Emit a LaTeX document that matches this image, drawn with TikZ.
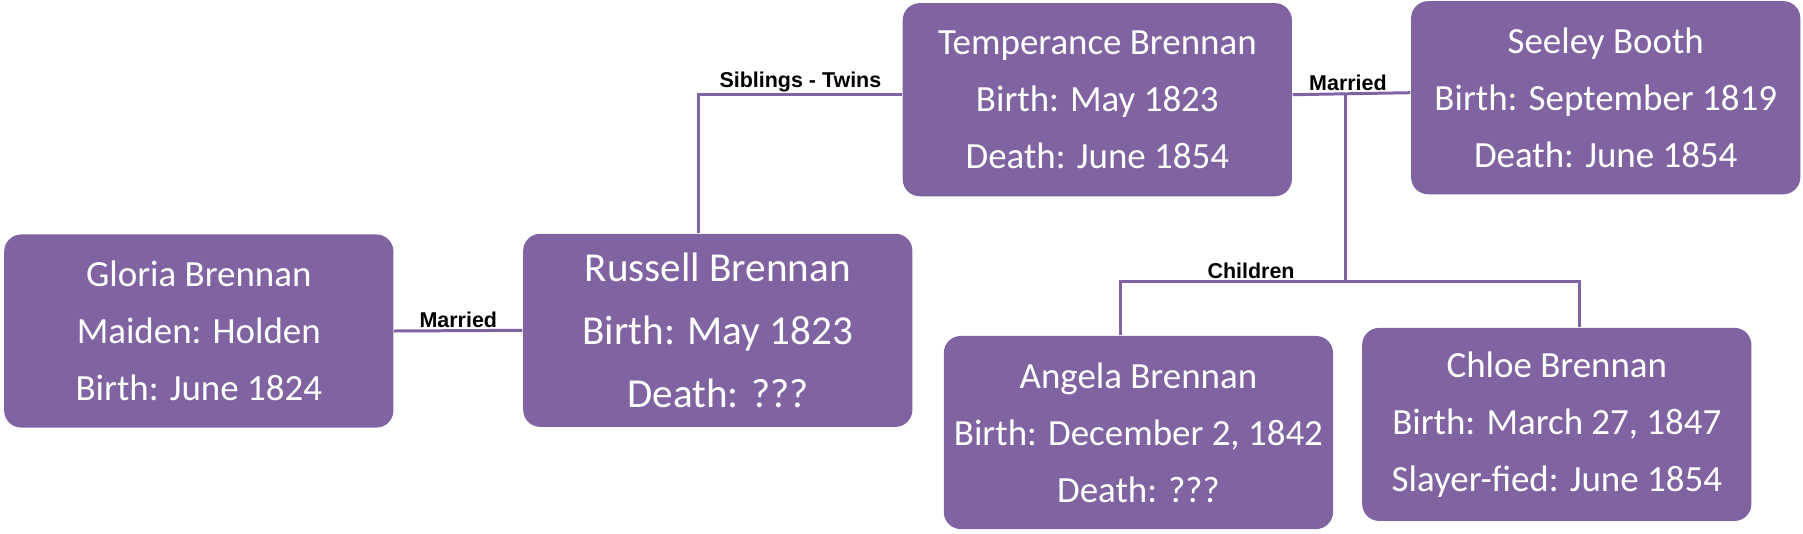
\documentclass[tikz,border=0pt]{standalone}
\usepackage{fontspec}
\newfontfamily\boxfont{Carlito}
\newfontfamily\tagfont{Liberation Sans}
\definecolor{famviolet}{HTML}{8064A2}
\begin{document}
\begin{tikzpicture}[x=0.01cm, y=-0.01cm,
  person/.style={rectangle, rounded corners=0.17cm, fill=famviolet, text=white,
    minimum width=3.89cm, minimum height=1.93cm, inner sep=0pt, align=center,
    font=\boxfont\fontsize{10.5}{16.2}\selectfont},
  link/.style={draw=famviolet, line width=0.85pt},
  tag/.style={font=\tagfont\bfseries\fontsize{6.1}{7}\selectfont, inner sep=0.4pt, above}]
\useasboundingbox (0,0) rectangle (1803,533);
\node[person] (gloria) at (198.8,331) {Gloria Brennan\\Maiden: Holden\\Birth: June 1824};
\node[person, font=\boxfont\fontsize{11.7}{17.9}\selectfont] (russell) at (717.8,330.3) {Russell Brennan\\Birth: May 1823\\Death: ???};
\node[person] (temperance) at (1097.3,99.7) {Temperance Brennan\\Birth: May 1823\\Death: June 1854};
\node[person] (seeley) at (1605.7,97.7) {Seeley Booth\\Birth: September 1819\\Death: June 1854};
\node[person] (angela) at (1138.4,432.5) {Angela Brennan\\Birth: December 2, 1842\\Death: ???};
\node[person] (chloe) at (1556.8,424.4) {Chloe Brennan\\Birth: March 27, 1847\\Slayer-fied: June 1854};
\draw[link] (gloria.east) -- node[tag]{Married} (russell.west);
\draw[link] ([xshift=-0.19cm]russell.north) |- node[tag, pos=0.75]{Siblings - Twins} ([yshift=0.05cm]temperance.west);
\draw[link] ([yshift=0.05cm]temperance.east) -- node[tag, pos=0.47]{Married} coordinate[pos=0.45] (wed) ([yshift=0.05cm]seeley.west);
\coordinate (kids) at (wed |- 0,281.4);
\draw[link] (wed) -- (kids);
\draw[link] ([xshift=-0.18cm]angela.north) |- node[tag, pos=0.79]{Children} (kids) -| ([xshift=0.23cm]chloe.north);

\end{tikzpicture}
\end{document}
